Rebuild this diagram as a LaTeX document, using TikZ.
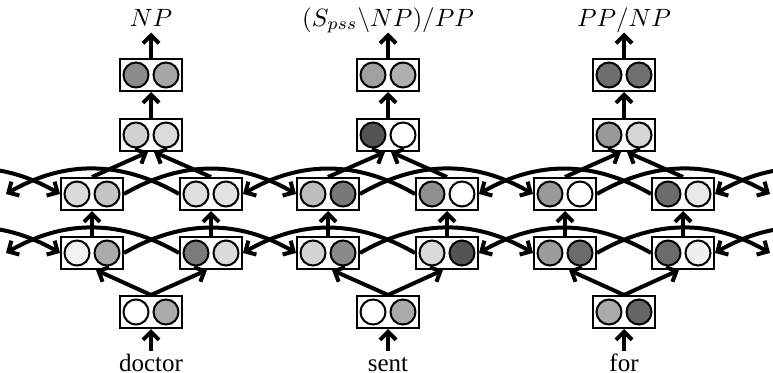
\documentclass[tikz,border=0pt]{standalone}
\usepackage{fontspec}
\setmainfont{Liberation Serif}
\usetikzlibrary{arrows.meta,calc}
\newcommand\mycell[5]{%
  \node[cellbox] (#1) at (#2,-#3) {};
  \node[unit,fill=black!#4] (#1l) at ([xshift=-6pt]#1.center) {};
  \node[unit,fill=black!#5] (#1r) at ([xshift=6pt]#1.center) {};}
\begin{document}
\begin{tikzpicture}[x=0.4pt,y=0.4pt,
  cellbox/.style={draw, line width=0.8pt, minimum width=24.8pt, minimum height=12.8pt, inner sep=0pt, fill=white},
  unit/.style={circle, draw, line width=0.8pt, minimum size=10pt, inner sep=0pt},
  conn/.style={line width=1.6pt, -{Straight Barb[length=3.2pt,width=6.4pt]}},
  lbl/.style={inner sep=2.4pt, text depth=0pt, anchor=base},
  word/.style={inner sep=1pt, text height=7pt, text depth=0pt, anchor=base},
  fwd/.style={conn, bend left=30},
  bwd/.style={conn, bend right=30},
]
\useasboundingbox (0,0) rectangle (773,-373);
\clip (0,0) rectangle (773,-373);
% top boxes
\mycell{t1}{151}{75}{45}{35}
\mycell{t2}{388}{75}{37}{31}
\mycell{t3}{624}{75}{57}{56}
% hidden boxes
\mycell{h1}{151}{135}{18}{14}
\mycell{h2}{388}{135}{67}{0}
\mycell{h3}{624}{135}{40}{16}
% LSTM layer 2 (upper)
\mycell{a1}{92}{194}{15}{23}
\mycell{a2}{211}{194}{13}{11}
\mycell{a3}{328}{194}{26}{53}
\mycell{a4}{447}{194}{44}{0}
\mycell{a5}{565}{194}{40}{0}
\mycell{a6}{683}{194}{58}{9}
% LSTM layer 1 (lower)
\mycell{b1}{92}{253}{5}{33}
\mycell{b2}{211}{253}{52}{15}
\mycell{b3}{328}{253}{17}{46}
\mycell{b4}{447}{253}{15}{67}
\mycell{b5}{565}{253}{39}{58}
\mycell{b6}{683}{253}{58}{6}
% word boxes
\mycell{w1}{151}{312}{0}{33}
\mycell{w2}{388}{312}{0}{33}
\mycell{w3}{624}{312}{33}{60}
% labels
\node[lbl] (l1) at (151,-26) {$NP$};
\node[lbl] (l2) at (388,-26) {$(S_{pss}\backslash NP)/PP$};
\node[lbl] (l3) at (624,-26) {$PP/NP$};
% words
\node[word] (d1) at (151,-371) {doctor};
\node[word] (d2) at (388,-371) {sent};
\node[word] (d3) at (624,-371) {for};
% off-picture ends of the recurrent arcs
\foreach \r/\y in {a/194,b/253}{
  \coordinate (\r L) at (-113,-\y);
  \coordinate (\r Le) at (6,-\y);
  \coordinate (\r R) at (770,-\y);
  \coordinate (\r Rw) at (888,-\y);
}
% connectors
\foreach \i in {1,2,3}{
  \draw[conn] (d\i.north) -- (w\i.south);
  \draw[conn] (h\i.north) -- (t\i.south);
  \draw[conn] (t\i.north) -- (l\i.south);
}
\draw[conn] (w1.north) -- ([xshift=1.6pt]b1.south);
\draw[conn] (w1.north) -- ([xshift=-1.6pt]b2.south);
\draw[conn] (w2.north) -- ([xshift=1.6pt]b3.south);
\draw[conn] (w2.north) -- ([xshift=-1.6pt]b4.south);
\draw[conn] (w3.north) -- ([xshift=1.6pt]b5.south);
\draw[conn] (w3.north) -- ([xshift=-1.6pt]b6.south);
\foreach \i in {1,...,6}{
  \draw[conn] (b\i.north) -- (a\i.south);
}
\draw[conn] (a1.north) -- ([xshift=-1.2pt]h1.south);
\draw[conn] (a2.north) -- ([xshift=1.2pt]h1.south);
\draw[conn] (a3.north) -- ([xshift=-1.2pt]h2.south);
\draw[conn] (a4.north) -- ([xshift=1.2pt]h2.south);
\draw[conn] (a5.north) -- ([xshift=-1.2pt]h3.south);
\draw[conn] (a6.north) -- ([xshift=1.2pt]h3.south);
\foreach \r in {a,b}{
  \draw[fwd] (\r L) to (\r1.west);
  \draw[fwd] (\r1.east) to (\r3.west);
  \draw[fwd] (\r3.east) to (\r5.west);
  \draw[fwd] (\r5.east) to (\r R);
  \draw[bwd] (\r2.west) to (\r Le);
  \draw[bwd] (\r4.west) to (\r2.east);
  \draw[bwd] (\r6.west) to (\r4.east);
  \draw[bwd] (\r Rw) to (\r6.east);
}
\end{tikzpicture}
\end{document}
